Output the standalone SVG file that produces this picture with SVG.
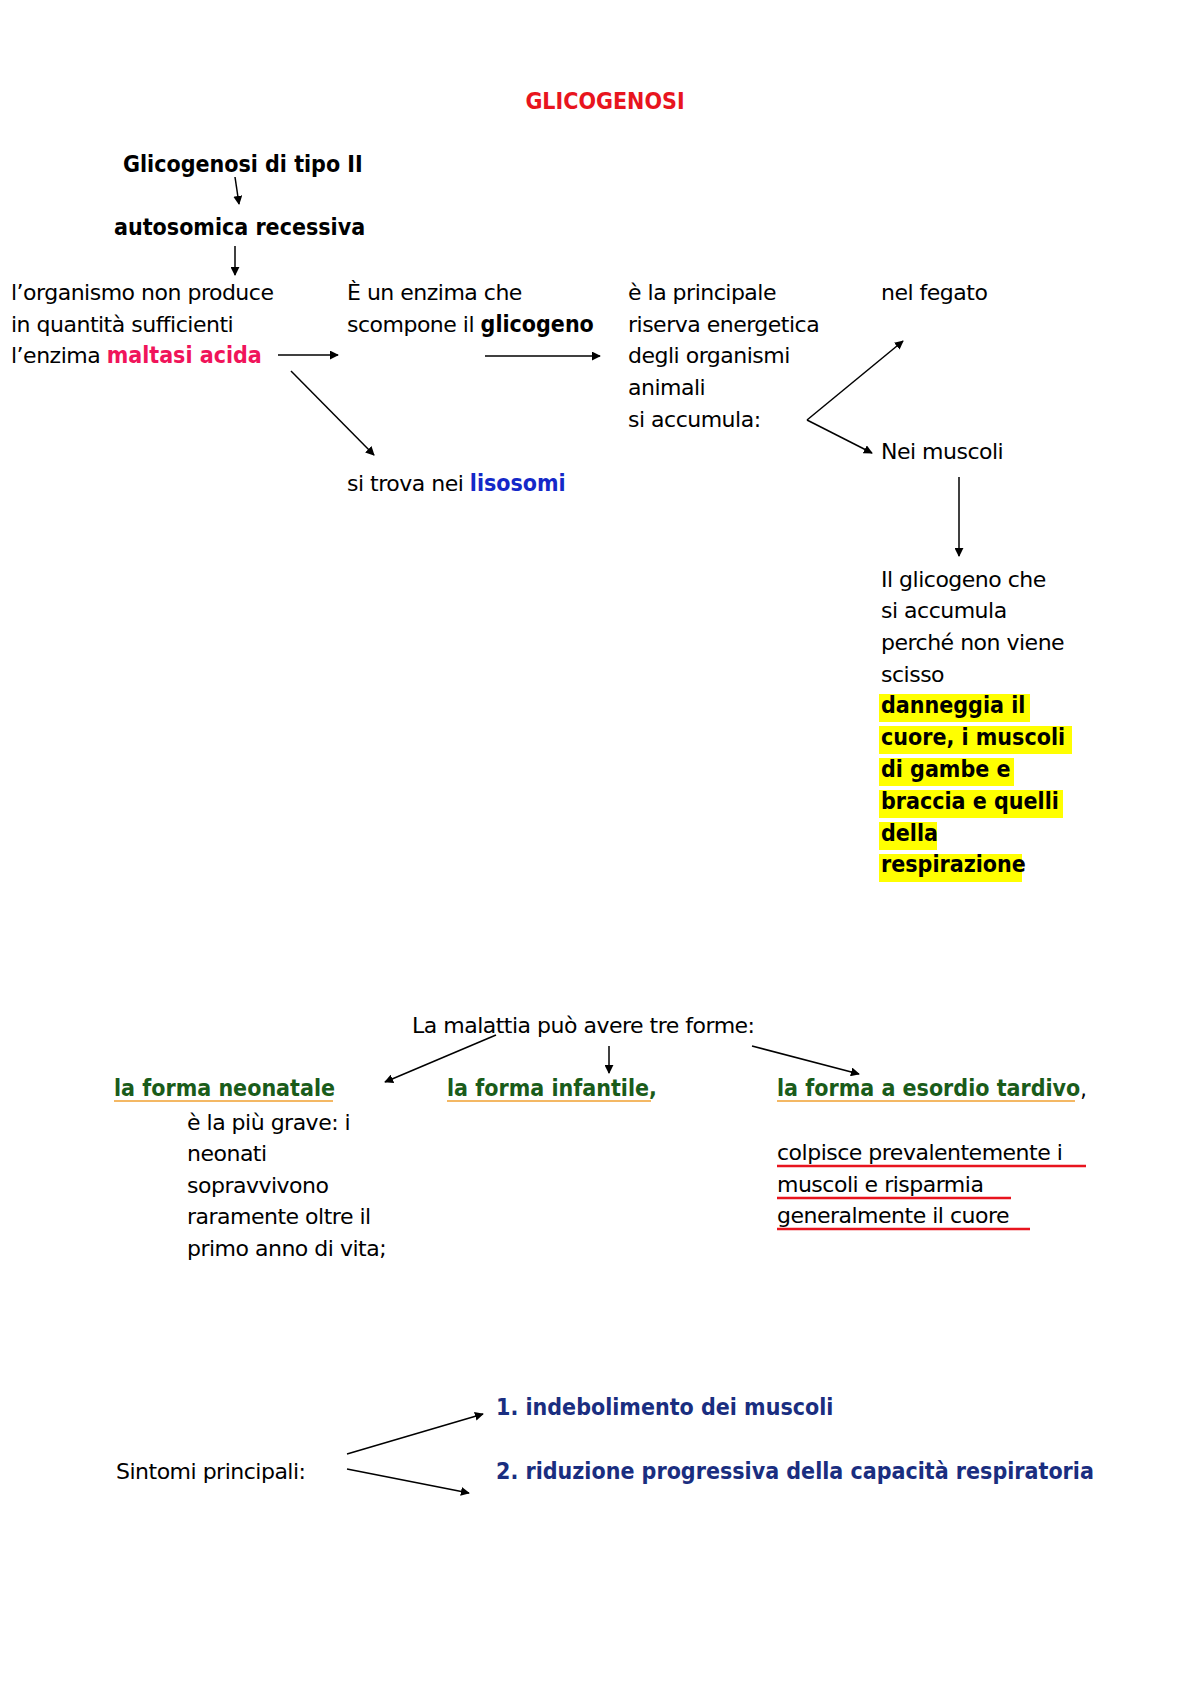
<svg xmlns="http://www.w3.org/2000/svg" width="1200" height="1698" viewBox="0 0 1200 1698">
<style>
text{font-family:"DejaVu Sans","Liberation Sans",sans-serif;font-size:22px;letter-spacing:-0.5px;fill:#000}
.b{font-family:"DejaVu Sans Condensed","DejaVu Sans",sans-serif;font-weight:bold;font-size:23px;letter-spacing:0px}
.g{fill:#1a5c1a}
.n{fill:#1a2e80}
line{stroke:#000;stroke-width:1.5}
</style>
<defs><marker id="a" viewBox="0 0 10 10" refX="9" refY="5" markerWidth="9" markerHeight="9" orient="auto" markerUnits="userSpaceOnUse"><path d="M0,0L10,5L0,10z" fill="#000"/></marker></defs>
<rect fill="#fff" width="1200" height="1698"/>
<g transform="translate(0,-3)">
<g id="title"><text class="b" x="605" y="112" text-anchor="middle" style="fill:#e8141e">GLICOGENOSI</text></g>
<g id="n1"><text class="b" x="123" y="175">Glicogenosi di tipo II</text></g>
<g id="n2"><text class="b" x="114" y="238">autosomica recessiva</text></g>
<g id="n3"><text x="11" y="303">l’organismo non produce</text><text x="11" y="335">in quantità sufficienti</text><text x="11" y="366">l’enzima <tspan class="b" style="fill:#f0145a">maltasi acida</tspan></text></g>
<g id="n4"><text x="347" y="303">È un enzima che</text><text x="347" y="335">scompone il <tspan class="b">glicogeno</tspan></text></g>
<g id="n5"><text x="628" y="303"> è la principale</text><text x="628" y="335">riserva energetica</text><text x="628" y="366">degli organismi</text><text x="628" y="398">animali</text><text x="628" y="430">si accumula:</text></g>
<g id="n6"><text x="881" y="303">nel fegato</text></g>
<g id="n7"><text x="347" y="494">si trova nei <tspan class="b" style="fill:#1428c8">lisosomi</tspan></text></g>
<g id="n8"><text x="881" y="462">Nei muscoli</text></g>
<g id="n9">
<rect x="879" y="697" width="151" height="28" fill="#ffff00"/><rect x="879" y="729" width="193" height="28" fill="#ffff00"/><rect x="879" y="761" width="135" height="28" fill="#ffff00"/><rect x="879" y="793" width="184" height="28" fill="#ffff00"/><rect x="879" y="825" width="58" height="28" fill="#ffff00"/><rect x="879" y="857" width="143" height="28" fill="#ffff00"/>
<text x="881" y="590">Il glicogeno che</text><text x="881" y="621">si accumula</text><text x="881" y="653">perché non viene</text><text x="881" y="685">scisso</text>
<text class="b" x="881" y="716">danneggia il</text><text class="b" x="881" y="748">cuore, i muscoli</text><text class="b" x="881" y="780">di gambe e</text><text class="b" x="881" y="812">braccia e quelli</text><text class="b" x="881" y="844">della</text><text class="b" x="881" y="875">respirazione</text></g>
<g id="n10"><text x="412" y="1036">La malattia può avere tre forme:</text></g>
<g id="n11"><text class="b g" x="114" y="1099">la forma neonatale</text><line x1="114" y1="1104" x2="333" y2="1104" style="stroke:#f0a030"/>
<text x="187" y="1133">è la più grave: i</text><text x="187" y="1164">neonati</text><text x="187" y="1196">sopravvivono</text><text x="187" y="1227">raramente oltre il</text><text x="187" y="1259">primo anno di vita;</text></g>
<g id="n12"><text class="b g" x="447" y="1099">la forma infantile,</text><line x1="447" y1="1104" x2="651" y2="1104" style="stroke:#f0a030"/></g>
<g id="n13"><text class="b g" x="777" y="1099">la forma a esordio tardivo<tspan style="font-weight:normal;fill:#000">,</tspan></text><line x1="777" y1="1104" x2="1075" y2="1104" style="stroke:#f0a030"/>
<text x="777" y="1163">colpisce prevalentemente i</text><text x="777" y="1195">muscoli e risparmia </text><text x="777" y="1226">generalmente il cuore</text>
<line x1="777" y1="1169" x2="1086" y2="1169" style="stroke:#e8141e;stroke-width:2.5"/><line x1="777" y1="1201" x2="1011" y2="1201" style="stroke:#e8141e;stroke-width:2.5"/><line x1="777" y1="1232" x2="1030" y2="1232" style="stroke:#e8141e;stroke-width:2.5"/></g>
<g id="n14"><text x="116" y="1482">Sintomi principali:</text></g>
<g id="n15"><text class="b n" x="496" y="1418">1.  indebolimento  dei muscoli</text></g>
<g id="n16"><text class="b n" x="496" y="1482">2.  riduzione progressiva della capacità respiratoria</text></g>
<g id="connectors">
<line x1="235" y1="180" x2="239" y2="207" marker-end="url(#a)"/>
<line x1="235" y1="249" x2="235" y2="278" marker-end="url(#a)"/>
<line x1="278" y1="358" x2="338" y2="358" marker-end="url(#a)"/>
<line x1="485" y1="359" x2="600" y2="359" marker-end="url(#a)"/>
<line x1="291" y1="374" x2="374" y2="458" marker-end="url(#a)"/>
<line x1="807" y1="423" x2="903" y2="344" marker-end="url(#a)"/>
<line x1="807" y1="423" x2="872" y2="456" marker-end="url(#a)"/>
<line x1="959" y1="480" x2="959" y2="559" marker-end="url(#a)"/>
<line x1="496" y1="1038" x2="385" y2="1085" marker-end="url(#a)"/>
<line x1="609" y1="1049" x2="609" y2="1076" marker-end="url(#a)"/>
<line x1="752" y1="1049" x2="859" y2="1077" marker-end="url(#a)"/>
<line x1="347" y1="1457" x2="483" y2="1417" marker-end="url(#a)"/>
<line x1="347" y1="1472" x2="469" y2="1496" marker-end="url(#a)"/>
</g>
</g>
</svg>
